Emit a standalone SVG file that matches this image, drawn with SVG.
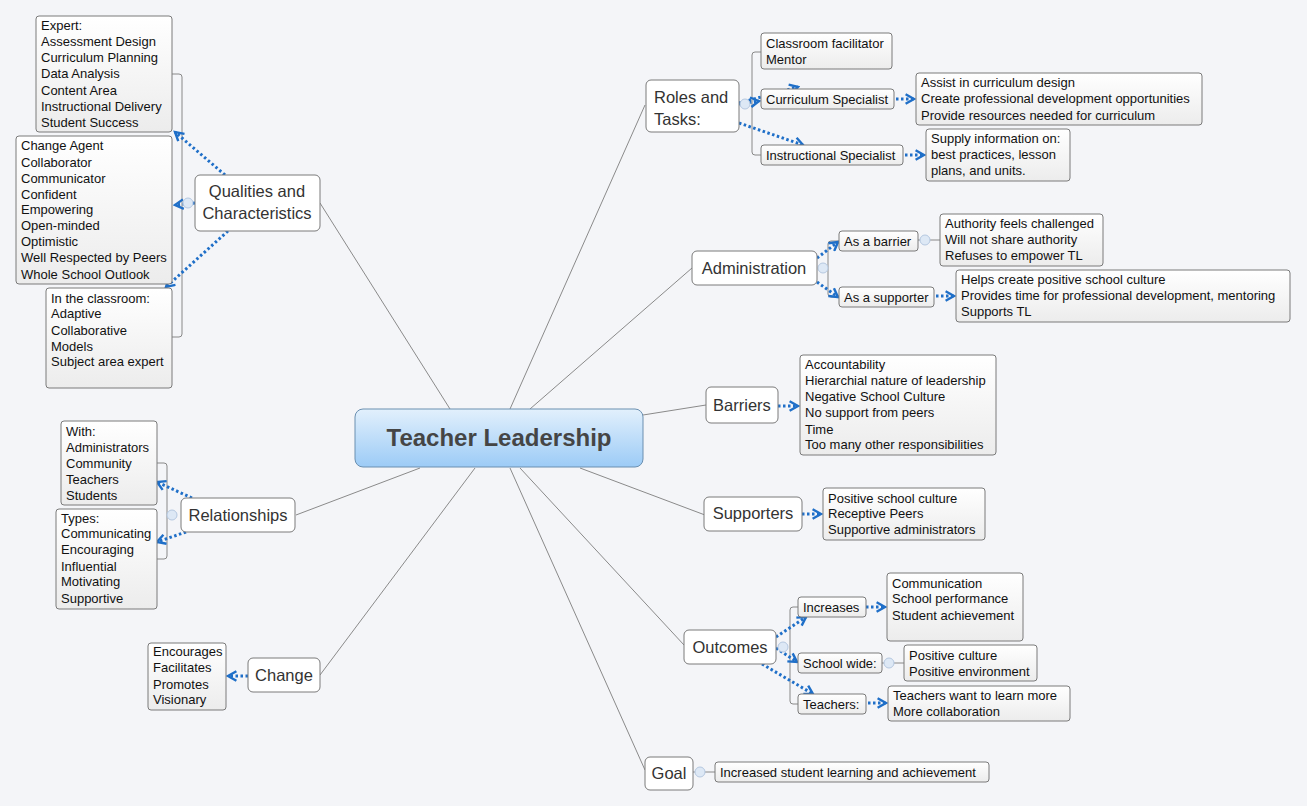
<svg xmlns="http://www.w3.org/2000/svg" width="1307" height="806" viewBox="0 0 1307 806">
<defs>
<linearGradient id="leaf" x1="0" y1="0" x2="0" y2="1"><stop offset="0" stop-color="#ffffff"/><stop offset="1" stop-color="#ececec"/></linearGradient>
<linearGradient id="cen" x1="0" y1="0" x2="0" y2="1"><stop offset="0" stop-color="#e2f0fc"/><stop offset="1" stop-color="#9ccbf6"/></linearGradient>
<marker id="ar" viewBox="0 0 10 10" refX="8" refY="5" markerWidth="4" markerHeight="4" orient="auto" markerUnits="strokeWidth"><path d="M1,1 L8,5 L1,9" fill="none" stroke="#1f6fc8" stroke-width="2"/></marker>
</defs>
<style>
text{font-family:"Liberation Sans",Arial,sans-serif;fill:#111}
.l{font-size:13px}
.m{font-size:16.5px;fill:#333}
.leaf{fill:url(#leaf);stroke:#7a7a7a;stroke-width:1}
.topic{fill:#fff;stroke:#7a7a7a;stroke-width:1}
.br{fill:none;stroke:#888;stroke-width:1}
.main{stroke:#8a8a8a;stroke-width:1;fill:none}
.dot{stroke:#1f6fc8;stroke-width:3;stroke-dasharray:2.5 2.5;fill:none;marker-end:url(#ar)}
.cc{fill:#dde8f5;stroke:#b5c8e0}
</style>
<rect width="1307" height="806" fill="#f4f5f8"/>
<g id="connectors">
<path class="main" d="M450,409 L320,203 M510,409 L645,105 M530,409 L692,268 M643,415 L706,405 M580,468 L705,515 M520,468 L684,645 M510,468 L645,770 M475,468 L320,675 M420,468 L296,515"/>
<path class="br" d="M172,74 h7 q3,0 3,3 v257 q0,3 -3,3 h-7"/>
<path class="br" d="M761,52 h-6 q-3,0 -3,3 v97 q0,3 3,3 h6"/>
<path class="br" d="M839,241 h-8 q-3,0 -3,3 v50 q0,3 3,3 h8"/>
<path class="br" d="M798,607 h-5 q-3,0 -3,3 v91 q0,3 3,3 h5"/>
<path class="br" d="M157,463 h7 q3,0 3,3 v90 q0,3 -3,3 h-7"/>
<path class="br" d="M918,240 H940 M882,663 H904 M693,772 H715"/>
<path class="dot" d="M225,175 L175,132"/>
<path class="dot" d="M195,203 L175,205"/>
<path class="dot" d="M228,231 L166,287"/>
<path class="dot" d="M739,103 L798,87"/>
<path class="dot" d="M739,104 L759,101"/>
<path class="dot" d="M739,123 L803,145"/>
<path class="dot" d="M896,99 L914,99"/>
<path class="dot" d="M905,155 L924,155"/>
<path class="dot" d="M817,258 L838,242"/>
<path class="dot" d="M817,282 L838,297"/>
<path class="dot" d="M936,296 L954,296"/>
<path class="dot" d="M778,406 L798,406"/>
<path class="dot" d="M802,514 L821,514"/>
<path class="dot" d="M776,637 L806,617"/>
<path class="dot" d="M776,648 L797,662"/>
<path class="dot" d="M762,664 L813,694"/>
<path class="dot" d="M866,607 L885,607"/>
<path class="dot" d="M868,703 L886,703"/>
<path class="dot" d="M192,498 L157,482"/>
<path class="dot" d="M186,532 L157,542"/>
<path class="dot" d="M248,676 L228,676"/>
<circle class="cc" cx="188" cy="203" r="5"/><circle class="cc" cx="745" cy="104" r="5"/><circle class="cc" cx="823" cy="268" r="5"/>
<circle class="cc" cx="925" cy="240" r="5"/><circle class="cc" cx="889" cy="663" r="5"/><circle class="cc" cx="700" cy="772" r="5"/>
<circle class="cc" cx="783" cy="647" r="5"/><circle class="cc" cx="172" cy="515" r="5"/>
</g>
<g id="center"><rect x="355" y="409" width="288" height="58" rx="8" fill="url(#cen)" stroke="#6a8fb0"/><text x="499" y="446" text-anchor="middle" font-size="24" font-weight="bold" style="fill:#454545">Teacher Leadership</text></g>
<g id="qualities"><rect class="topic" x="195" y="175" width="125" height="56" rx="5"/><text class="m" x="257" y="197" text-anchor="middle">Qualities and</text><text class="m" x="257" y="219" text-anchor="middle">Characteristics</text></g>
<g id="expert"><rect class="leaf" x="36" y="16" width="136" height="116" rx="3"/><text class="l" x="41"><tspan x="41" y="30">Expert:</tspan><tspan x="41" y="46">Assessment Design</tspan><tspan x="41" y="62">Curriculum Planning</tspan><tspan x="41" y="78">Data Analysis</tspan><tspan x="41" y="95">Content Area</tspan><tspan x="41" y="111">Instructional Delivery</tspan><tspan x="41" y="127">Student Success</tspan></text></g>
<g id="agent"><rect class="leaf" x="16" y="136" width="156" height="148" rx="3"/><text class="l"><tspan x="21" y="150">Change Agent</tspan><tspan x="21" y="167">Collaborator</tspan><tspan x="21" y="183">Communicator</tspan><tspan x="21" y="199">Confident</tspan><tspan x="21" y="214">Empowering</tspan><tspan x="21" y="230">Open-minded</tspan><tspan x="21" y="246">Optimistic</tspan><tspan x="21" y="262">Well Respected by Peers</tspan><tspan x="21" y="279">Whole School Outlook</tspan></text></g>
<g id="classroom"><rect class="leaf" x="46" y="288" width="126" height="100" rx="3"/><text class="l"><tspan x="51" y="303">In the classroom:</tspan><tspan x="51" y="318">Adaptive</tspan><tspan x="51" y="335">Collaborative</tspan><tspan x="51" y="351">Models</tspan><tspan x="51" y="366">Subject area expert</tspan></text></g>
<g id="roles"><rect class="topic" x="646" y="80" width="93" height="52" rx="5"/><text class="m"><tspan x="654" y="103">Roles and</tspan><tspan x="654" y="125">Tasks:</tspan></text></g>
<g id="facil"><rect class="leaf" x="761" y="33" width="131" height="36" rx="3"/><text class="l"><tspan x="766" y="48">Classroom facilitator</tspan><tspan x="766" y="64">Mentor</tspan></text></g>
<g id="curr"><rect class="leaf" x="761" y="89" width="133" height="20" rx="3"/><text class="l" x="766" y="104">Curriculum Specialist</text></g>
<g id="instr"><rect class="leaf" x="761" y="145" width="142" height="20" rx="3"/><text class="l" x="766" y="160">Instructional Specialist</text></g>
<g id="assist"><rect class="leaf" x="916" y="73" width="286" height="52" rx="3"/><text class="l"><tspan x="921" y="87">Assist in curriculum design</tspan><tspan x="921" y="103">Create professional development opportunities</tspan><tspan x="921" y="120">Provide resources needed for curriculum</tspan></text></g>
<g id="supply"><rect class="leaf" x="926" y="129" width="144" height="52" rx="3"/><text class="l"><tspan x="931" y="143">Supply information on:</tspan><tspan x="931" y="159">best practices, lesson</tspan><tspan x="931" y="175">plans, and units.</tspan></text></g>
<g id="admin"><rect class="topic" x="692" y="251" width="125" height="34" rx="5"/><text class="m" x="754" y="274" text-anchor="middle">Administration</text></g>
<g id="barrier"><rect class="leaf" x="839" y="231" width="79" height="20" rx="3"/><text class="l" x="844" y="246">As a barrier</text></g>
<g id="supporter"><rect class="leaf" x="839" y="287" width="95" height="20" rx="3"/><text class="l" x="844" y="302">As a supporter</text></g>
<g id="authority"><rect class="leaf" x="940" y="214" width="163" height="52" rx="3"/><text class="l"><tspan x="945" y="228">Authority feels challenged</tspan><tspan x="945" y="244">Will not share authority</tspan><tspan x="945" y="260">Refuses to empower TL</tspan></text></g>
<g id="helps"><rect class="leaf" x="956" y="270" width="334" height="52" rx="3"/><text class="l"><tspan x="961" y="284">Helps create positive school culture</tspan><tspan x="961" y="300">Provides time for professional development, mentoring</tspan><tspan x="961" y="316">Supports TL</tspan></text></g>
<g id="barriers"><rect class="topic" x="706" y="387" width="72" height="36" rx="5"/><text class="m" x="742" y="411" text-anchor="middle">Barriers</text></g>
<g id="barrierlist"><rect class="leaf" x="800" y="355" width="196" height="100" rx="3"/><text class="l"><tspan x="805" y="369">Accountability</tspan><tspan x="805" y="385">Hierarchial nature of leadership</tspan><tspan x="805" y="401">Negative School Culture</tspan><tspan x="805" y="417">No support from peers</tspan><tspan x="805" y="434">Time</tspan><tspan x="805" y="449">Too many other responsibilities</tspan></text></g>
<g id="supporters"><rect class="topic" x="704" y="497" width="98" height="34" rx="5"/><text class="m" x="753" y="519" text-anchor="middle">Supporters</text></g>
<g id="suplist"><rect class="leaf" x="823" y="488" width="162" height="52" rx="3"/><text class="l"><tspan x="828" y="503">Positive school culture</tspan><tspan x="828" y="518">Receptive Peers</tspan><tspan x="828" y="534">Supportive administrators</tspan></text></g>
<g id="outcomes"><rect class="topic" x="684" y="630" width="92" height="34" rx="5"/><text class="m" x="730" y="653" text-anchor="middle">Outcomes</text></g>
<g id="increases"><rect class="leaf" x="798" y="597" width="68" height="20" rx="3"/><text class="l" x="803" y="612">Increases</text></g>
<g id="schoolwide"><rect class="leaf" x="798" y="653" width="84" height="20" rx="3"/><text class="l" x="803" y="668">School wide:</text></g>
<g id="teachers"><rect class="leaf" x="798" y="694" width="68" height="20" rx="3"/><text class="l" x="803" y="709">Teachers:</text></g>
<g id="comm"><rect class="leaf" x="887" y="573" width="136" height="68" rx="3"/><text class="l"><tspan x="892" y="588">Communication</tspan><tspan x="892" y="603">School performance</tspan><tspan x="892" y="620">Student achievement</tspan></text></g>
<g id="posc"><rect class="leaf" x="904" y="645" width="133" height="36" rx="3"/><text class="l"><tspan x="909" y="660">Positive culture</tspan><tspan x="909" y="676">Positive environment</tspan></text></g>
<g id="twant"><rect class="leaf" x="888" y="686" width="182" height="35" rx="3"/><text class="l"><tspan x="893" y="700">Teachers want to learn more</tspan><tspan x="893" y="716">More collaboration</tspan></text></g>
<g id="goal"><rect class="topic" x="645" y="757" width="48" height="33" rx="5"/><text class="m" x="669" y="779" text-anchor="middle">Goal</text></g>
<g id="goalleaf"><rect class="leaf" x="715" y="762" width="274" height="20" rx="3"/><text class="l" x="720" y="777">Increased student learning and achievement</text></g>
<g id="relationships"><rect class="topic" x="181" y="498" width="114" height="34" rx="5"/><text class="m" x="238" y="521" text-anchor="middle">Relationships</text></g>
<g id="with"><rect class="leaf" x="61" y="421" width="96" height="84" rx="3"/><text class="l"><tspan x="66" y="436">With:</tspan><tspan x="66" y="452">Administrators</tspan><tspan x="66" y="468">Community</tspan><tspan x="66" y="484">Teachers</tspan><tspan x="66" y="500">Students</tspan></text></g>
<g id="types"><rect class="leaf" x="56" y="509" width="101" height="100" rx="3"/><text class="l"><tspan x="61" y="523">Types:</tspan><tspan x="61" y="538">Communicating</tspan><tspan x="61" y="554">Encouraging</tspan><tspan x="61" y="571">Influential</tspan><tspan x="61" y="586">Motivating</tspan><tspan x="61" y="603">Supportive</tspan></text></g>
<g id="change"><rect class="topic" x="248" y="658" width="72" height="34" rx="5"/><text class="m" x="284" y="681" text-anchor="middle">Change</text></g>
<g id="changelist"><rect class="leaf" x="148" y="643" width="78" height="67" rx="3"/><text class="l"><tspan x="153" y="656">Encourages</tspan><tspan x="153" y="672">Facilitates</tspan><tspan x="153" y="689">Promotes</tspan><tspan x="153" y="704">Visionary</tspan></text></g>
</svg>
